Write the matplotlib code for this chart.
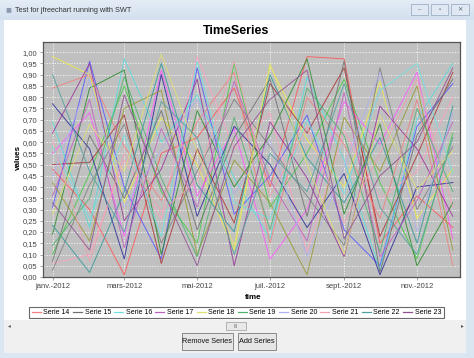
import datetime as dt
import numpy as np
import matplotlib
matplotlib.use("Agg")
import matplotlib.pyplot as plt
from matplotlib.patches import Rectangle
from matplotlib.lines import Line2D
from matplotlib.ticker import MultipleLocator, FuncFormatter

plt.rcParams['font.family'] = ['Liberation Sans', 'DejaVu Sans']

# monthly points for 2012
months = [dt.date(2012, m, 1) for m in range(1, 13)]
tick_months = [dt.date(2012, m, 1) for m in (1, 3, 5, 7, 9, 11)]
tick_labels = ["janv.-2012", "mars-2012", "mai-2012", "juil.-2012", "sept.-2012", "nov.-2012"]

s00 = [0.48, 0.30, 0.01, 0.55, 0.62, 0.84, 0.40, 0.98, 0.97, 0.15, 0.36, 0.22]
s01 = [0.31, 0.96, 0.40, 0.08, 0.93, 0.28, 0.45, 0.72, 0.21, 0.05, 0.67, 0.86]
s02 = [0.10, 0.46, 0.85, 0.38, 0.15, 0.95, 0.31, 0.55, 0.88, 0.42, 0.08, 0.64]
s03 = [0.98, 0.90, 0.33, 0.71, 0.50, 0.12, 0.94, 0.61, 0.40, 0.87, 0.26, 0.48]
s04 = [0.55, 0.73, 0.18, 0.92, 0.36, 0.66, 0.08, 0.30, 0.78, 0.59, 0.91, 0.17]
s05 = [0.69, 0.22, 0.97, 0.60, 0.81, 0.44, 0.17, 0.89, 0.52, 0.03, 0.70, 0.95]
s06 = [0.06, 0.10, 0.52, 0.26, 0.98, 0.57, 0.73, 0.11, 0.65, 0.35, 0.47, 0.80]
s07 = [0.03, 0.41, 0.68, 0.15, 0.47, 0.79, 0.58, 0.36, 0.14, 0.93, 0.30, 0.58]
s08 = [0.50, 0.51, 0.72, 0.06, 0.57, 0.24, 0.86, 0.64, 0.93, 0.18, 0.54, 0.91]
s09 = [0.77, 0.57, 0.08, 0.90, 0.27, 0.67, 0.50, 0.22, 0.46, 0.01, 0.40, 0.42]
s10 = [0.19, 0.84, 0.92, 0.10, 0.74, 0.40, 0.63, 0.97, 0.28, 0.68, 0.05, 0.33]
s11 = [0.42, 0.16, 0.75, 0.83, 0.10, 0.52, 0.33, 0.01, 0.71, 0.47, 0.85, 0.12]
s12 = [0.64, 0.95, 0.25, 0.48, 0.88, 0.05, 0.69, 0.44, 0.09, 0.76, 0.57, 0.27]
s13 = [0.23, 0.02, 0.38, 0.95, 0.41, 0.20, 0.90, 0.53, 0.33, 0.62, 0.15, 0.76]
s14 = [0.84, 0.90, 0.58, 0.34, 0.69, 0.91, 0.15, 0.80, 0.59, 0.26, 0.79, 0.05]
s15 = [0.07, 0.63, 0.35, 0.74, 0.21, 0.62, 0.88, 0.27, 0.96, 0.02, 0.63, 0.88]
s16 = [0.58, 0.26, 0.63, 0.18, 0.96, 0.33, 0.26, 0.70, 0.37, 0.83, 0.95, 0.46]
s17 = [0.36, 0.79, 0.13, 0.66, 0.31, 0.87, 0.43, 0.16, 0.82, 0.09, 0.34, 0.69]
s18 = [0.28, 0.68, 0.47, 0.99, 0.56, 0.14, 0.95, 0.50, 0.10, 0.72, 0.39, 0.56]
s19 = [0.14, 0.35, 0.89, 0.44, 0.09, 0.71, 0.21, 0.84, 0.63, 0.11, 0.75, 0.38]
s20 = [0.45, 0.88, 0.31, 0.57, 0.79, 0.37, 0.61, 0.09, 0.49, 0.91, 0.20, 0.73]
s21 = [0.61, 0.07, 0.55, 0.29, 0.43, 0.96, 0.36, 0.67, 0.24, 0.55, 0.88, 0.31]
s22 = [0.90, 0.47, 0.20, 0.78, 0.62, 0.10, 0.55, 0.38, 0.86, 0.31, 0.10, 0.62]
s23 = [0.33, 0.12, 0.81, 0.40, 0.05, 0.58, 0.79, 0.92, 0.17, 0.45, 0.60, 0.93]

series = [s00, s01, s02, s03, s04, s05, s06, s07, s08, s09, s10, s11,
          s12, s13, s14, s15, s16, s17, s18, s19, s20, s21, s22, s23]
names = ["Serie %d" % i for i in range(len(series))]
colors = ['#ff5555', '#5555ff', '#44cc44', '#eeee44', '#ff55ff', '#55dddd',
          '#ffa0c0', '#808080', '#aa3333', '#2a2a99', '#2a8a2a', '#999933',
          '#993399', '#339999', '#f08080', '#707070', '#70e0e0', '#c060c0',
          '#e0e070', '#50b070', '#b0b0f0', '#f0a0b0', '#50a0a0', '#905090']
legend_from = 14   # the visible part of the scrolled legend

W, H = 474, 358
fig = plt.figure(figsize=(W / 100, H / 100), dpi=100)
fig.patch.set_facecolor('#f0f0f0')


def box(x0, y0, x1, y1, **kw):
    # rectangle in pixel coords measured from the top-left corner
    r = Rectangle((x0 / W, 1 - y1 / H), (x1 - x0) / W, (y1 - y0) / H,
                  transform=fig.transFigure, zorder=-1, **kw)
    fig.patches.append(r)
    return r


def ftext(x, y, s, **kw):
    fig.text(x / W, 1 - y / H, s, **kw)


# window chrome
bar = fig.add_axes([0, 1 - 20 / H, 1, 20 / H])
cmap = matplotlib.colors.LinearSegmentedColormap.from_list('t', ['#e4ecf6', '#d3e0ef'])
bar.imshow(np.linspace(0, 1, 20).reshape(-1, 1), aspect='auto', cmap=cmap, extent=[0, 1, 0, 1])
bar.axis('off')
box(0, 20, 4, H, facecolor='#dbe6f3', edgecolor='none')
box(466, 20, W, H, facecolor='#dbe6f3', edgecolor='none')
box(0, 353, W, H, facecolor='#dbe6f3', edgecolor='none')
box(4, 20, 466, 320, facecolor='white', edgecolor='none')
ftext(15, 10, "Test for jfreechart running with SWT", fontsize=5.3, color='#333333', va='center', zorder=3)
ftext(8, 9.5, "■", fontsize=7, color='#8c9bb0', ha='center', va='center', zorder=3)
for x0, x1, g in [(411, 428, '–'), (431, 448, '▫'), (451, 469, '✕')]:
    fig.patches.append(Rectangle((x0 / W, 1 - 15 / H), (x1 - x0) / W, 11 / H, transform=fig.transFigure,
                                 facecolor='#dfe8f3', edgecolor='#9fb0c4', lw=0.6, zorder=3))
    ftext((x0 + x1) / 2, 9.5, g, fontsize=4.5, color='#556677', ha='center', va='center', zorder=4)

# scrollbar and buttons
ftext(9, 326, "◂", fontsize=4, color='#555555', ha='center', va='center')
ftext(462, 326, "▸", fontsize=4, color='#555555', ha='center', va='center')
box(226, 322, 246, 330, facecolor='#e8e8e8', edgecolor='#a8a8a8', lw=0.6)
ftext(236, 326, "III", fontsize=3.5, color='#666666', ha='center', va='center')
for x0, x1, s in [(182, 233, "Remove Series"), (238, 276, "Add Series")]:
    box(x0, 333, x1, 350, facecolor='#e6e6e6', edgecolor='#8a8a8a', lw=0.7)
    ftext((x0 + x1) / 2, 341.5, s, fontsize=5.3, color='#111111', ha='center', va='center')

# chart
ax = fig.add_axes([43 / W, 1 - 277 / H, (460 - 43) / W, (277 - 42) / H])
ax.set_zorder(2)
ax.set_facecolor('#c0c0c0')
for s, c in zip(series, colors):
    ax.plot(months, s, color=c, lw=0.7, alpha=0.85)

ax.set_xlim(dt.date(2011, 12, 24), dt.date(2012, 12, 7))
ax.set_ylim(0, 1.045)
ax.set_xticks(tick_months)
ax.set_xticklabels(tick_labels)
ax.yaxis.set_major_locator(MultipleLocator(0.05))
ax.yaxis.set_major_formatter(FuncFormatter(lambda v, p: ("%.2f" % v).replace('.', ',')))
ax.tick_params(labelsize=5.5, length=2, width=0.5, color='#808080', labelcolor='#444444', pad=2)
ax.grid(True, color='white', lw=0.5, ls=(0, (2, 2)))
for sp in ax.spines.values():
    sp.set_color('#555555')
    sp.set_linewidth(0.9)

ftext(236, 31, "TimeSeries", fontsize=9, fontweight='bold', ha='center', va='center')
ftext(253, 297.5, "time", fontsize=5.8, fontweight='bold', ha='center', va='center')
ftext(18, 157, "values", fontsize=5.8, fontweight='bold', ha='center', va='center', rotation=90)

handles = [Line2D([], [], color=colors[i], lw=0.9) for i in range(legend_from, len(series))]
leg = fig.legend(handles, names[legend_from:], loc='center', ncol=len(handles),
                 bbox_to_anchor=(236.5 / W, 1 - 312.5 / H), fontsize=5.0, frameon=True,
                 fancybox=False, handlelength=1.3, handletextpad=0.35, columnspacing=0.5,
                 borderpad=0.35, borderaxespad=0)
leg.get_frame().set_edgecolor('#444444')
leg.get_frame().set_linewidth(0.8)

fig.savefig("out.png", dpi=100)
